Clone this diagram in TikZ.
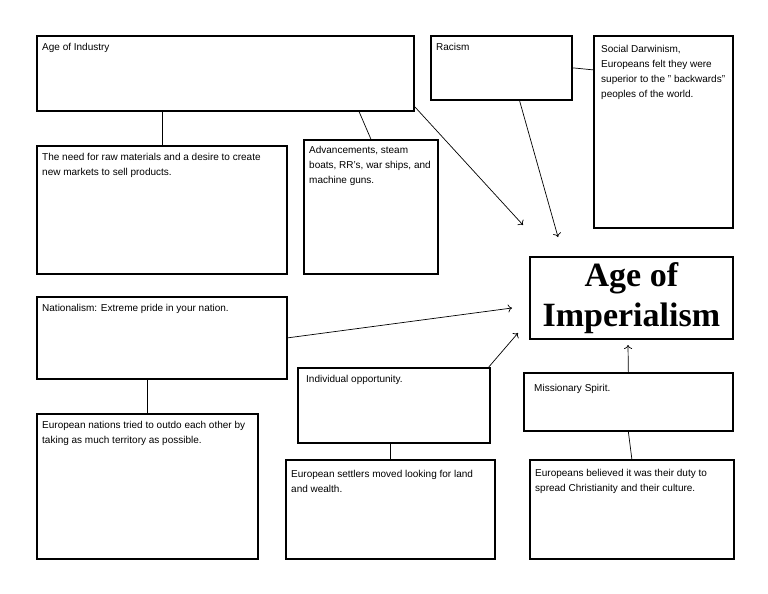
\documentclass[tikz,border=0pt]{standalone}
\usepackage{fontspec}
\setmainfont{Liberation Sans}
\newfontfamily\titlefont{Liberation Serif}
\usetikzlibrary{arrows.meta}
\begin{document}
\begin{tikzpicture}[x=1pt, y=-1pt]
        \tikzstyle{box_style} = [draw, line width=1.7pt, anchor=north west, inner sep=0pt]
        \tikzstyle{text_style} = [anchor=north west, inner sep=0pt, align=left, font=\fontsize{10}{15}\selectfont, xshift=6pt, yshift=-8pt]
        \tikzstyle{line_style} = [black, line width=0.7pt]
        \tikzstyle{arrow_style} = [-{To[length=4pt, width=8pt]}, black, line width=0.7pt]

        \useasboundingbox (0,0) rectangle (768,594);

        % Top row
        \node[box_style, minimum width=377, minimum height=75, label={[text_style]north west:Age of Industry}] (industry) at (36,35) {};
        \node[box_style, minimum width=141, minimum height=64, label={[text_style]north west:Racism}] (racism) at (430,35) {};
        \node[box_style, minimum width=139, minimum height=192, label={[text_style, xshift=2pt, yshift=-2pt]north west:{Social Darwinism,\\Europeans felt they were\\superior to the " backwards"\\peoples of the world.}}] (darwin) at (593,35) {};

        \node[box_style, minimum width=250, minimum height=128, label={[text_style]north west:{The need for raw materials and a desire to create\\new markets to sell products.}}] (need) at (36,145) {};
        \node[box_style, minimum width=134, minimum height=134, label={[text_style, yshift=1pt]north west:{Advancements, steam\\boats, RR's, war ships, and\\machine guns.}}] (advance) at (303,139) {};

        % The center box
        \node[box_style, minimum width=203, minimum height=82, align=center, font=\titlefont\bfseries\fontsize{34}{40}\selectfont] (imperial) at (529,256) {Age of\\Imperialism};

        % Bottom rows
        \node[box_style, minimum width=250, minimum height=82, label={[text_style]north west:{Nationalism: Extreme pride in your nation.}}] (nationalism) at (36,296) {};
        \node[box_style, minimum width=221, minimum height=145, label={[text_style]north west:{European nations tried to outdo each other by\\taking as much territory as possible.}}] (nations) at (36,413) {};

        \node[box_style, minimum width=192, minimum height=75, label={[text_style, xshift=3pt]north west:{Individual opportunity.}}] (individual) at (297,367) {};
        \node[box_style, minimum width=209, minimum height=99, label={[text_style, yshift=-3pt]north west:{European settlers moved looking for land\\and wealth.}}] (settlers) at (285,459) {};

        \node[box_style, minimum width=209, minimum height=58, label={[text_style, xshift=5pt, yshift=-4pt]north west:{Missionary Spirit.}}] (missionary) at (523,372) {};
        \node[box_style, minimum width=204, minimum height=99, label={[text_style, yshift=-2pt]north west:{Europeans believed it was their duty to\\spread Christianity and their culture.}}] (believed) at (529,459) {};

        % Free ends of the arrows
        \coordinate (tip1) at (523,225);
        \coordinate (tip2) at (558,237);
        \coordinate (tip3) at (512,308);
        \coordinate (tip4) at (518,333);
        \coordinate (tip5) at (628,345);

        \draw[line_style] (need.north) -- (need.north |- industry.south);
        \draw[line_style] (industry.-16) -- (advance.north);
        \draw[line_style] (racism.east) -- ([yshift=-2pt]darwin.west |- racism.east);
        \draw[line_style] (nations.north) -- (nations.north |- nationalism.south);
        \draw[line_style] (settlers.north) -- (settlers.north |- individual.south);
        \draw[line_style] (missionary.south) -- (believed.north);

        \draw[arrow_style] ([yshift=5pt]industry.south east) -- (tip1);
        \draw[arrow_style] (racism.-61) -- (tip2);
        \draw[arrow_style] (nationalism.east) -- (tip3);
        \draw[arrow_style] (individual.22) -- (tip4);
        \draw[arrow_style] (missionary.north) -- (tip5);
    \end{tikzpicture}
\end{document}
